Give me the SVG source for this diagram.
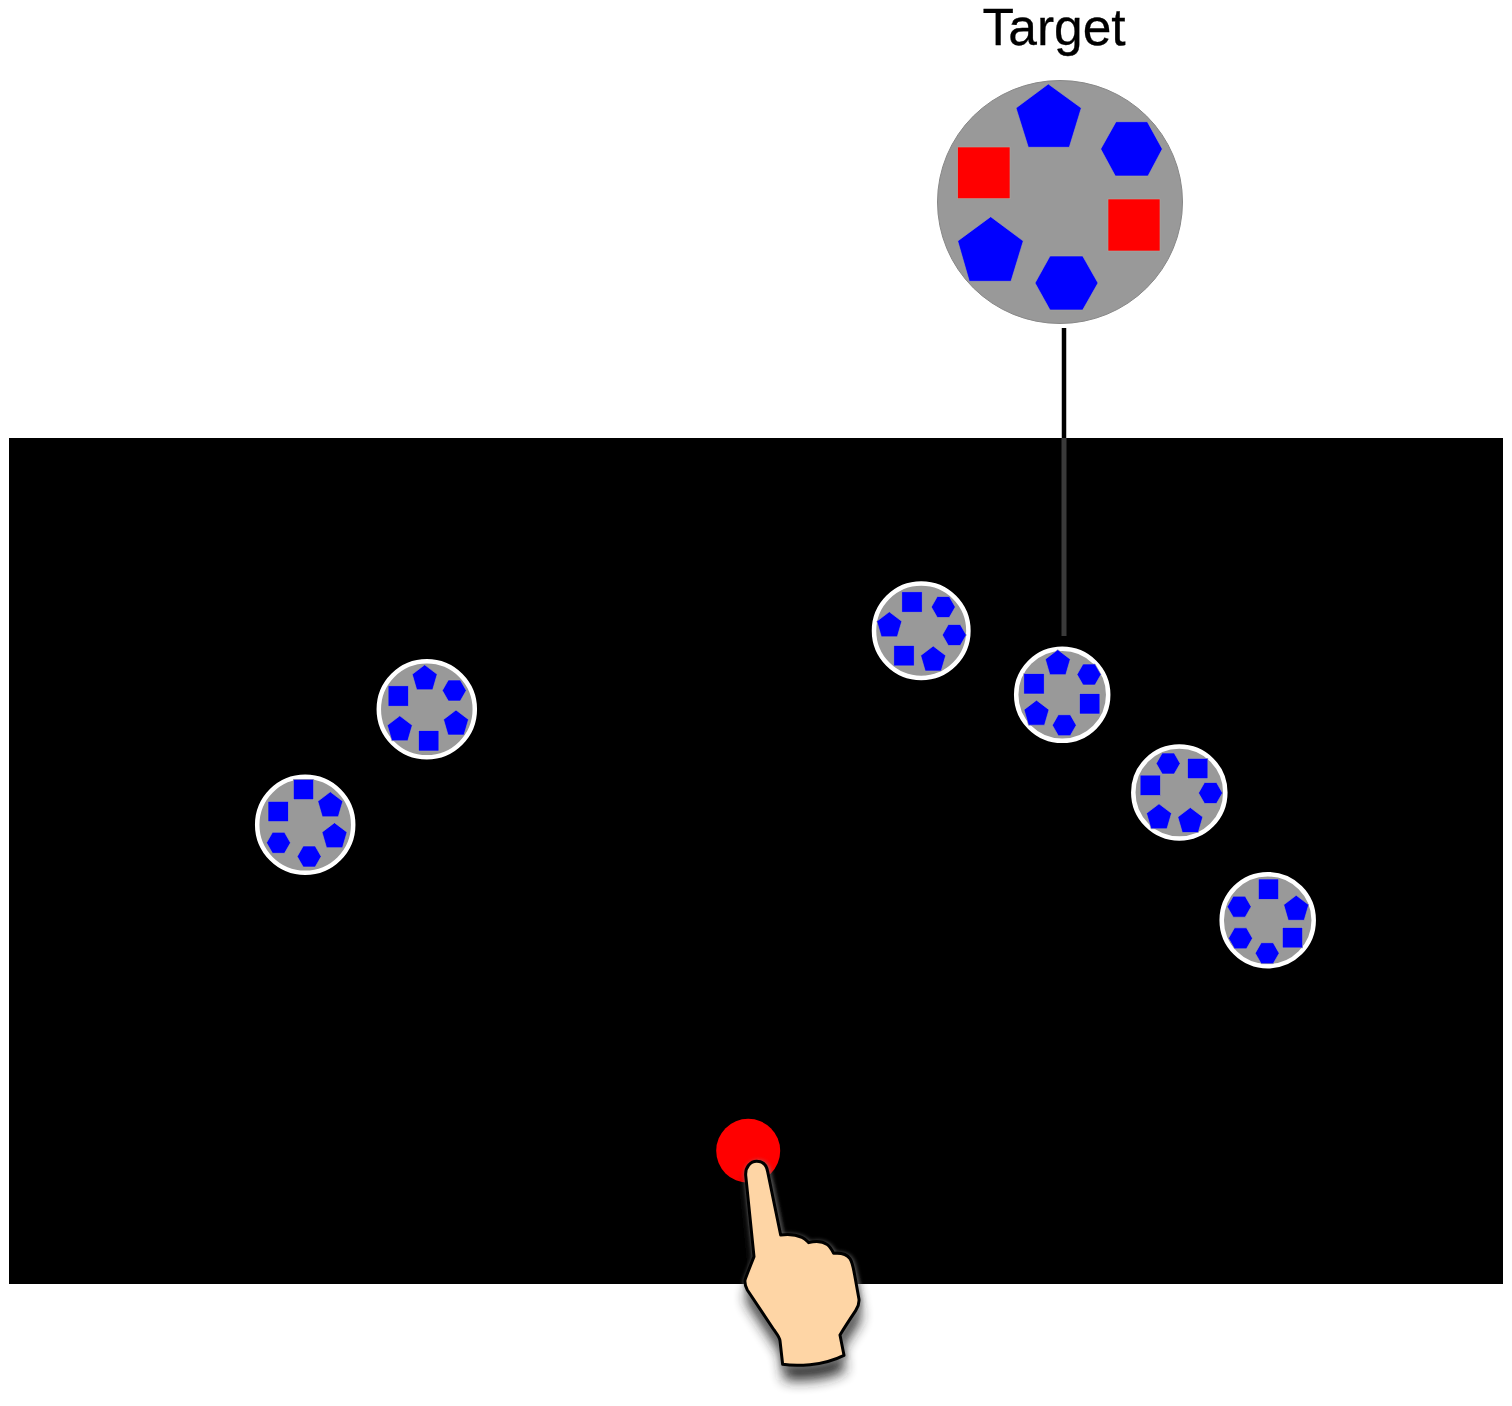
<svg xmlns="http://www.w3.org/2000/svg" xmlns:xlink="http://www.w3.org/1999/xlink" width="1512" height="1406" viewBox="0 0 1512 1406">
<style>
.label{font-family:"Liberation Sans",Arial,sans-serif;font-size:51.5px;fill:#000;stroke:#000;stroke-width:.3}
.disc{fill:#999;stroke:#fff;stroke-width:4.5}
.b{fill:#00f;stroke:#a8a8a0;stroke-width:.6}
.r{fill:#f00;stroke:#b0a8a0;stroke-width:.6}
</style>
<defs>
<polygon id="p" points="0,-12.5 12.5,-3 8,12.5 -8,12.5 -12.5,-3"/>
<polygon id="h" points="-6,-10.5 6,-10.5 12,0 6,10.5 -6,10.5 -12,0"/>
<rect id="s" x="-10.2" y="-10.2" width="20.4" height="20.4"/>
<filter id="shadow" x="-40%" y="-20%" width="180%" height="140%"><feGaussianBlur stdDeviation="19"/></filter>
<filter id="halo" x="-40%" y="-20%" width="180%" height="140%"><feGaussianBlur stdDeviation="6"/></filter>
<path id="handShape" d="M167,225C166,200 182,184 200,184C220,184 230,197 233,215L272,405C295,402 318,404 336,412C345,416 350,422 356,428C375,423 398,424 412,434C420,440 425,448 431,460C450,458 470,462 480,476C488,488 490,505 494,525L507,598C508,612 505,620 497,632C485,650 465,680 450,705L462,766C430,782 400,790 360,794C330,797 305,797 278,793L270,722C268,710 262,704 252,690L172,570C166,560 164,550 165,540C170,525 182,495 192,470L167,225Z"/>
</defs>
<rect id="screen" x="9" y="438" width="1494" height="846" fill="#000"/>
<g id="connectors">
<line x1="1064" y1="328" x2="1064" y2="438" stroke="#000" stroke-width="4.5"/>
<line x1="1064" y1="438" x2="1064" y2="636" stroke="#3a3a3a" stroke-width="5"/>
</g>
<g id="target-label"><text class="label" x="982.5" y="45">Target</text></g>
<g id="target">
<ellipse cx="1060" cy="202" rx="122.5" ry="121.5" fill="#999" stroke="#888" stroke-width="1"/>
<polygon class="b" points="1048.3,84 1081.3,108 1069.3,147.3 1028.3,147.3 1016,108"/>
<polygon class="b" points="1116,121.7 1147.3,121.7 1162.3,149 1148,176 1115.3,176 1100.7,149"/>
<rect class="r" x="957.7" y="147" width="52.3" height="51.7"/>
<rect class="r" x="1108" y="199" width="52" height="52"/>
<polygon class="b" points="990.7,216.7 1023.3,241 1011,281.3 969.3,281.3 957.7,241"/>
<polygon class="b" points="1050,256 1082.7,256 1098,283 1082.7,310 1050,310 1035,283"/>
</g>
<g id="item-1">
<circle class="disc" cx="921.2" cy="630.7" r="47.2"/>
<use class="b" href="#s" x="912" y="602"/><use class="b" href="#h" x="943.3" y="607"/><use class="b" href="#p" x="889.3" y="624.3"/><use class="b" href="#h" x="954.3" y="635"/><use class="b" href="#s" x="904" y="655.7"/><use class="b" href="#p" x="933.2" y="658.5"/>
</g>
<g id="item-2">
<circle class="disc" cx="1062.2" cy="694.8" r="46"/>
<use class="b" href="#p" x="1057.8" y="662.2"/><use class="b" href="#h" x="1089" y="674.5"/><use class="b" href="#s" x="1034" y="683.8"/><use class="b" href="#s" x="1089.7" y="703.8"/><use class="b" href="#p" x="1036.5" y="712.7"/><use class="b" href="#h" x="1064.3" y="725.2"/>
</g>
<g id="item-3">
<circle class="disc" cx="1179.3" cy="792.5" r="46"/>
<use class="b" href="#h" x="1168.2" y="763.5"/><use class="b" href="#s" x="1197.7" y="768.5"/><use class="b" href="#s" x="1150.3" y="785.3"/><use class="b" href="#h" x="1210.5" y="793"/><use class="b" href="#p" x="1159" y="816.3"/><use class="b" href="#p" x="1190.3" y="820"/>
</g>
<g id="item-4">
<circle class="disc" cx="1267.7" cy="920.2" r="46"/>
<use class="b" href="#s" x="1268.5" y="889.2"/><use class="b" href="#h" x="1239.2" y="906.7"/><use class="b" href="#p" x="1296.2" y="907.8"/><use class="b" href="#h" x="1240.5" y="938.3"/><use class="b" href="#s" x="1292.5" y="937.7"/><use class="b" href="#h" x="1267.2" y="953.2"/>
</g>
<g id="item-5">
<circle class="disc" cx="426.8" cy="709.3" r="48"/>
<use class="b" href="#p" x="424.7" y="677.3"/><use class="b" href="#h" x="454.3" y="690.5"/><use class="b" href="#s" x="398.3" y="696"/><use class="b" href="#p" x="456" y="722.5"/><use class="b" href="#p" x="399.8" y="728.3"/><use class="b" href="#s" x="428.7" y="740.8"/>
</g>
<g id="item-6">
<circle class="disc" cx="305.2" cy="824.8" r="48"/>
<use class="b" href="#s" x="303.5" y="789.5"/><use class="b" href="#p" x="330.3" y="804.3"/><use class="b" href="#s" x="278.2" y="811.5"/><use class="b" href="#p" x="334.5" y="835.2"/><use class="b" href="#h" x="278.5" y="842.8"/><use class="b" href="#h" x="309.2" y="856.5"/>
</g>
<g id="start-button"><circle cx="748.2" cy="1150.8" r="32" fill="#f00"/></g>
<g id="hand">
<g transform="translate(690 1100) scale(.3333)">
<use href="#handShape" fill="#222" transform="translate(4 46)" filter="url(#shadow)" opacity=".9"/>
<use href="#handShape" fill="none" stroke="#888" stroke-width="14" filter="url(#halo)" opacity=".7" transform="translate(3 4)"/>
<use href="#handShape" fill="#fed5a5" stroke="#000" stroke-width="9" stroke-linejoin="round"/>
</g>
</g>
</svg>
